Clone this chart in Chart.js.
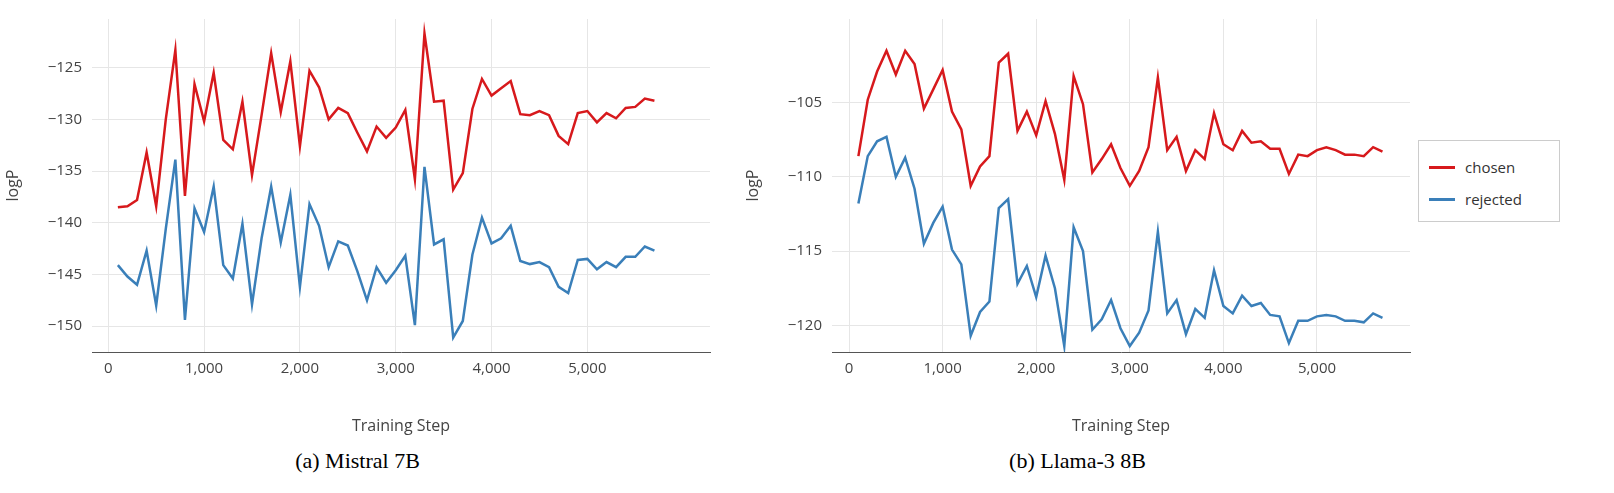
<!DOCTYPE html>
<html><head><meta charset="utf-8">
<script src="https://cdn.jsdelivr.net/npm/chart.js@4"></script>
<style>
body{margin:0;background:#fff;width:1614px;height:493px;position:relative;overflow:hidden;font-family:"Open Sans",sans-serif}
.c{position:absolute;top:0}
.cap{position:absolute;top:448px;font-family:"Liberation Serif",serif;font-size:22px;color:#000;text-align:center}
#leg{position:absolute;left:1418px;top:140px;width:142px;height:82px;border:1px solid #ccc;box-sizing:border-box;font-size:15px;color:#333}
#leg div{position:absolute;left:10px;display:flex;align-items:center}
#leg span.l{display:inline-block;width:26px;height:3px;margin-right:10px}
</style></head><body>
<div class="c" style="left:0;width:715px;height:440px"><canvas id="a"></canvas></div>
<div class="c" style="left:740px;width:675px;height:440px"><canvas id="b"></canvas></div>
<div class="cap" style="left:0;width:715px">(a) Mistral 7B</div>
<div class="cap" style="left:740px;width:675px">(b) Llama-3 8B</div>
<div id="leg"><div style="top:16px"><span class="l" style="background:#d7191c"></span>chosen</div><div style="top:48px"><span class="l" style="background:#3a7fb9"></span>rejected</div></div>
<script>
const steps=[];for(let s=100;s<=5700;s+=100)steps.push(s);
const mistralChosen=[-138.5,-138.4,-137.8,-133.2,-138.4,-130,-123.3,-137.4,-126.6,-130.2,-125.5,-132,-132.9,-128.3,-135.4,-129.6,-123.6,-129.3,-124.4,-132.6,-125.3,-126.9,-130,-128.9,-129.4,-131.3,-133.1,-130.7,-131.8,-130.8,-129.1,-135.8,-121.7,-128.3,-128.2,-136.8,-135.2,-129,-126.1,-127.7,-127,-126.3,-129.5,-129.6,-129.2,-129.6,-131.6,-132.4,-129.4,-129.2,-130.3,-129.4,-129.9,-128.9,-128.8,-128,-128.2];
const mistralRejected=[-144.1,-145.2,-146,-142.7,-148,-140.6,-133.9,-149.4,-138.6,-140.9,-136.5,-144.1,-145.4,-140.1,-147.9,-141.5,-136.5,-141.9,-137.3,-146.2,-138.2,-140.3,-144.3,-141.8,-142.2,-144.7,-147.5,-144.3,-145.8,-144.6,-143.2,-149.9,-134.6,-142.1,-141.6,-151.1,-149.5,-143.1,-139.5,-142,-141.5,-140.3,-143.7,-144,-143.8,-144.3,-146.2,-146.8,-143.6,-143.5,-144.5,-143.8,-144.3,-143.3,-143.3,-142.3,-142.7];
const llamaChosen=[-108.6,-104.8,-102.9,-101.5,-103.1,-101.5,-102.4,-105.4,-104.1,-102.8,-105.6,-106.8,-110.6,-109.3,-108.6,-102.3,-101.7,-106.9,-105.6,-107.2,-104.9,-107.1,-110.2,-103.2,-105.1,-109.7,-108.8,-107.8,-109.4,-110.6,-109.6,-108,-103.3,-108.2,-107.3,-109.6,-108.2,-108.8,-105.7,-107.8,-108.2,-106.9,-107.7,-107.6,-108.1,-108.1,-109.8,-108.5,-108.6,-108.2,-108,-108.2,-108.5,-108.5,-108.6,-108,-108.3];
const llamaRejected=[-111.8,-108.6,-107.6,-107.3,-110,-108.7,-110.8,-114.5,-113.1,-112,-114.9,-115.9,-120.7,-119.1,-118.4,-112.1,-111.5,-117.2,-116,-118.1,-115.3,-117.5,-121.4,-113.4,-115,-120.3,-119.6,-118.3,-120.2,-121.4,-120.5,-119,-113.7,-119.2,-118.3,-120.6,-118.9,-119.5,-116.3,-118.7,-119.2,-118,-118.7,-118.5,-119.3,-119.4,-121.2,-119.7,-119.7,-119.4,-119.3,-119.4,-119.7,-119.7,-119.8,-119.2,-119.5];
const xTicks=[0,1000,2000,3000,4000,5000];
const mistralYTicks=[-150,-145,-140,-135,-130,-125];
const llamaYTicks=[-120,-115,-110,-105];
function mk(id,c,r,xr,yr,yt){
 const pts=a=>a.map((v,i)=>({x:steps[i],y:v}));
 new Chart(document.getElementById(id),{type:'line',
  data:{datasets:[{label:'chosen',data:pts(c),borderColor:'#d7191c',borderWidth:2.5,pointRadius:0,tension:0},
                  {label:'rejected',data:pts(r),borderColor:'#3a7fb9',borderWidth:2.5,pointRadius:0,tension:0}]},
  options:{responsive:true,maintainAspectRatio:false,animation:false,
   layout:{padding:{top:5,right:5}},
   plugins:{legend:{display:false},tooltip:{enabled:false}},
   scales:{
    x:{type:'linear',min:xr[0],max:xr[1],
     afterBuildTicks:s=>{s.ticks=xTicks.map(v=>({value:v}));},
     afterFit:s=>{s.height=88},
     grid:{color:'#e6e6e6',drawTicks:false},border:{display:true,color:'#555'},
     ticks:{color:'#444',font:{size:15,family:'Open Sans'},padding:8,callback:v=>v.toLocaleString('en-US')},
     title:{display:true,text:'Training Step',color:'#444',font:{size:16,family:'Open Sans'},padding:{top:2}}},
    y:{min:yr[0],max:yr[1],
     afterBuildTicks:s=>{s.ticks=yt.map(v=>({value:v}));},
     afterFit:s=>{s.width=92},
     grid:{color:'#e6e6e6',drawTicks:false},border:{display:false},
     ticks:{color:'#444',font:{size:15,family:'Open Sans'},padding:10,callback:v=>String(v).replace('-','\u2212')},
     title:{display:true,text:'logP',color:'#444',font:{size:16,family:'Open Sans'}}}}}});
}
mk('a',mistralChosen,mistralRejected,[-170,6280],[-152.5,-120.3],mistralYTicks);
mk('b',llamaChosen,llamaRejected,[-182,5994],[-121.8,-99.36],llamaYTicks);
</script></body></html>
